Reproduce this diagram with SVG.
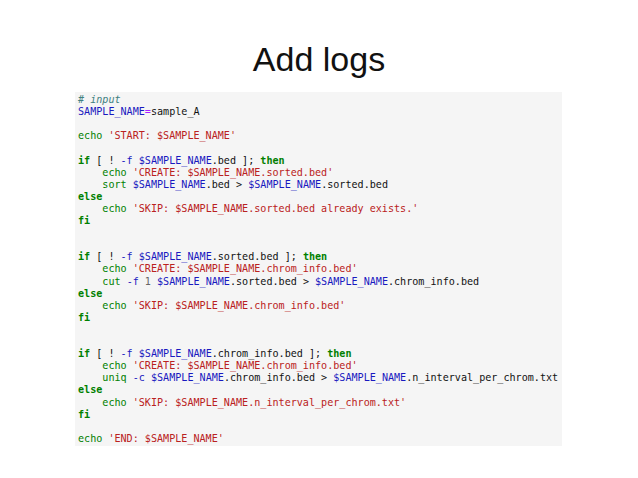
<svg xmlns="http://www.w3.org/2000/svg" width="638" height="478" viewBox="0 0 638 478">
<style>
.t{font-family:"DejaVu Sans Mono",monospace;font-size:10.1px;fill:#111}
.k{fill:#008000;font-weight:bold}
.e{fill:#008000}
.v{fill:#1919c0}
.s{fill:#ba2121}
.c{fill:#408080;font-style:italic}
.o{fill:#aa22ff}
.n{fill:#666}
</style>
<rect width="638" height="478" fill="#fff"/>
<text x="319" y="71" text-anchor="middle" font-family="Liberation Sans, sans-serif" font-size="34" fill="#111">Add logs</text>
<g id="code">
<rect x="75" y="92" width="487" height="354" fill="#f5f5f5"/>
<text class="t" xml:space="preserve">
<tspan x="78" y="103"><tspan class="c"># input</tspan></tspan>
<tspan x="78" y="115.1"><tspan class="v">SAMPLE_NAME</tspan><tspan class="o">=</tspan>sample_A</tspan>
<tspan x="78" y="139.3"><tspan class="e">echo</tspan> <tspan class="s">'START: $SAMPLE_NAME'</tspan></tspan>
<tspan x="78" y="163.5"><tspan class="k">if</tspan> [ ! <tspan class="v">-f</tspan> <tspan class="v">$SAMPLE_NAME</tspan>.bed ]; <tspan class="k">then</tspan></tspan>
<tspan x="78" y="175.6">    <tspan class="e">echo</tspan> <tspan class="s">'CREATE: $SAMPLE_NAME.sorted.bed'</tspan></tspan>
<tspan x="78" y="187.7">    <tspan class="e">sort</tspan> <tspan class="v">$SAMPLE_NAME</tspan>.bed &gt; <tspan class="v">$SAMPLE_NAME</tspan>.sorted.bed</tspan>
<tspan x="78" y="199.8"><tspan class="k">else</tspan></tspan>
<tspan x="78" y="211.9">    <tspan class="e">echo</tspan> <tspan class="s">'SKIP: $SAMPLE_NAME.sorted.bed already exists.'</tspan></tspan>
<tspan x="78" y="224"><tspan class="k">fi</tspan></tspan>
<tspan x="78" y="260.3"><tspan class="k">if</tspan> [ ! <tspan class="v">-f</tspan> <tspan class="v">$SAMPLE_NAME</tspan>.sorted.bed ]; <tspan class="k">then</tspan></tspan>
<tspan x="78" y="272.4">    <tspan class="e">echo</tspan> <tspan class="s">'CREATE: $SAMPLE_NAME.chrom_info.bed'</tspan></tspan>
<tspan x="78" y="284.5">    <tspan class="e">cut</tspan> <tspan class="v">-f</tspan> <tspan class="n">1</tspan> <tspan class="v">$SAMPLE_NAME</tspan>.sorted.bed &gt; <tspan class="v">$SAMPLE_NAME</tspan>.chrom_info.bed</tspan>
<tspan x="78" y="296.6"><tspan class="k">else</tspan></tspan>
<tspan x="78" y="308.7">    <tspan class="e">echo</tspan> <tspan class="s">'SKIP: $SAMPLE_NAME.chrom_info.bed'</tspan></tspan>
<tspan x="78" y="320.8"><tspan class="k">fi</tspan></tspan>
<tspan x="78" y="357.1"><tspan class="k">if</tspan> [ ! <tspan class="v">-f</tspan> <tspan class="v">$SAMPLE_NAME</tspan>.chrom_info.bed ]; <tspan class="k">then</tspan></tspan>
<tspan x="78" y="369.2">    <tspan class="e">echo</tspan> <tspan class="s">'CREATE: $SAMPLE_NAME.chrom_info.bed'</tspan></tspan>
<tspan x="78" y="381.3">    <tspan class="e">uniq</tspan> <tspan class="v">-c</tspan> <tspan class="v">$SAMPLE_NAME</tspan>.chrom_info.bed &gt; <tspan class="v">$SAMPLE_NAME</tspan>.n_interval_per_chrom.txt</tspan>
<tspan x="78" y="393.4"><tspan class="k">else</tspan></tspan>
<tspan x="78" y="405.5">    <tspan class="e">echo</tspan> <tspan class="s">'SKIP: $SAMPLE_NAME.n_interval_per_chrom.txt'</tspan></tspan>
<tspan x="78" y="417.6"><tspan class="k">fi</tspan></tspan>
<tspan x="78" y="441.8"><tspan class="e">echo</tspan> <tspan class="s">'END: $SAMPLE_NAME'</tspan></tspan>
</text>
</g>
</svg>
